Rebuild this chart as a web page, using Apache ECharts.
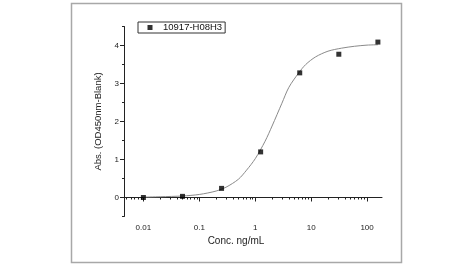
<!DOCTYPE html>
<html><head><meta charset="utf-8">
<script src="https://cdn.jsdelivr.net/npm/echarts@6/dist/echarts.min.js"></script>
<style>html,body{margin:0;padding:0;background:#fff}#c{width:474px;height:266px}</style>
</head><body><div id="c"></div>
<script>
const seriesName = '10917-H08H3';
const xTitle = 'Conc. ng/mL';
const yTitle = 'Abs. (OD450nm-Blank)';
const conc = [0.01, 0.05, 0.25, 1.25, 6.25, 31.25, 156.25];
const absValues = [0.0, 0.03, 0.24, 1.2, 3.28, 3.77, 4.09];
const fitConc = [0.01, 0.02, 0.05, 0.1, 0.2, 0.3, 0.5, 0.7, 1, 1.5, 2, 3, 4, 6, 8, 12, 20, 35, 60, 100, 156.25];
const fitAbs = [0.01, 0.02, 0.04, 0.08, 0.17, 0.27, 0.48, 0.72, 1.02, 1.48, 1.88, 2.48, 2.9, 3.28, 3.5, 3.7, 3.85, 3.93, 3.98, 4.01, 4.02];
const xMajorTicks = [0.01, 0.1, 1, 10, 100];
const xMinorTicks = [0.005, 0.006, 0.007, 0.008, 0.009,
  0.02, 0.03, 0.04, 0.05, 0.06, 0.07, 0.08, 0.09,
  0.2, 0.3, 0.4, 0.5, 0.6, 0.7, 0.8, 0.9,
  2, 3, 4, 5, 6, 7, 8, 9,
  20, 30, 40, 50, 60, 70, 80, 90];
const yMajorTicks = [0, 1, 2, 3, 4];
const yMinorTicks = [-0.5, 0.5, 1.5, 2.5, 3.5, 4.5];

const chart = echarts.init(document.getElementById('c'), null, {renderer: 'canvas'});
const axisColor = '#222';
const font = 'Liberation Sans, Arial, sans-serif';
const xBase = {type: 'log', min: 0.0045, max: 185, gridIndex: 0, position: 'bottom',
  splitLine: {show: false}};
const yBase = {type: 'value', min: -0.5, max: 4.5, position: 'left', splitLine: {show: false}};
chart.setOption({
  backgroundColor: '#fff',
  animation: false,
  graphic: [{type: 'rect', shape: {x: 71.5, y: 3.5, width: 330, height: 259}, style: {fill: 'none', stroke: '#a8a8a8', lineWidth: 1.5}, silent: true}],
  grid: {left: 124, right: 92, top: 26.5, bottom: 49.5, containLabel: false},
  legend: {left: 138, top: 22, orient: 'horizontal', borderColor: '#333', borderWidth: 1, borderRadius: 0,
    padding: [0, 3, 0, 9.5], itemWidth: 5, itemHeight: 5, icon: 'rect',
    textStyle: {fontSize: 9.5, fontFamily: font, color: '#111', lineHeight: 11, padding: [0, 0, 0, 5.5]},
    data: [seriesName]},
  xAxis: [
    Object.assign({}, xBase, {
      name: xTitle, nameLocation: 'middle', nameGap: 18,
      nameTextStyle: {fontSize: 10, fontFamily: font, color: '#222', padding: [0, 34, 0, 0]},
      axisLine: {show: true, lineStyle: {color: axisColor, width: 1}},
      axisTick: {show: true, inside: false, length: 4, customValues: xMajorTicks, lineStyle: {color: axisColor}},
      axisLabel: {show: true, margin: 7, fontSize: 8, fontFamily: font, color: '#222', customValues: xMajorTicks,
        formatter: v => String(v)}
    }),
    Object.assign({}, xBase, {
      axisLine: {show: false},
      axisTick: {show: true, inside: false, length: 2, customValues: xMinorTicks, lineStyle: {color: axisColor}},
      axisLabel: {show: false}
    })
  ],
  yAxis: [
    Object.assign({}, yBase, {
      name: yTitle, nameLocation: 'middle', nameGap: 20, nameRotate: 90,
      nameTextStyle: {fontSize: 9.5, fontFamily: font, color: '#222', padding: [0, 0, 0, 0]},
      axisLine: {show: true, lineStyle: {color: axisColor, width: 1}},
      axisTick: {show: true, inside: false, length: 4, customValues: yMajorTicks, lineStyle: {color: axisColor}},
      axisLabel: {show: true, margin: 5, fontSize: 8, fontFamily: font, color: '#222', customValues: yMajorTicks}
    }),
    Object.assign({}, yBase, {
      axisLine: {show: false},
      axisTick: {show: true, inside: false, length: 2, customValues: yMinorTicks, lineStyle: {color: axisColor}},
      axisLabel: {show: false}
    })
  ],
  series: [
    {name: 'fit', type: 'line', xAxisIndex: 0, yAxisIndex: 0, showSymbol: false, smooth: 0.3,
      data: fitConc.map((c, i) => [c, fitAbs[i]]),
      lineStyle: {color: '#8a8a8a', width: 1}, itemStyle: {color: '#8a8a8a'}, z: 2},
    {name: seriesName, type: 'scatter', xAxisIndex: 0, yAxisIndex: 0, symbol: 'rect', symbolSize: 5,
      data: conc.map((c, i) => [c, absValues[i]]),
      itemStyle: {color: '#000'}, z: 3}
  ]
});
</script></body></html>
